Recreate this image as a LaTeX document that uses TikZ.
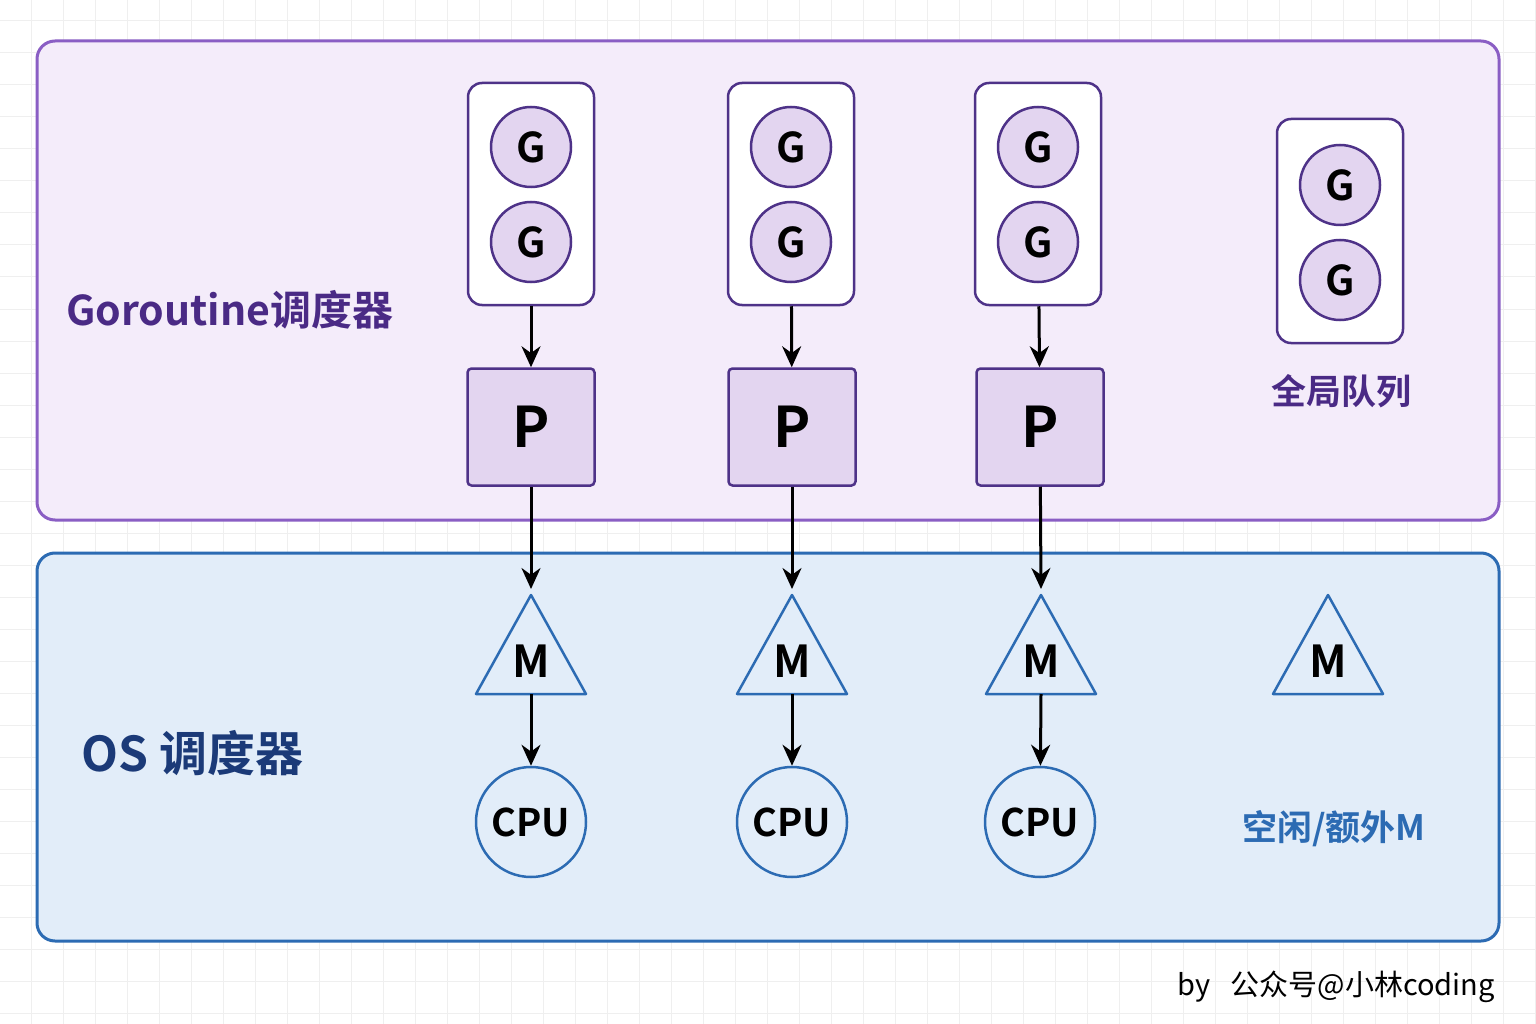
\documentclass[tikz,border=0pt]{standalone}
\usepackage{fontspec}
\setmainfont{Noto Sans CJK SC}[BoldFont={Noto Sans CJK SC Bold}]
\usetikzlibrary{arrows.meta}
\definecolor{gridc}{HTML}{EFEFEF}
\definecolor{pfill}{HTML}{F4ECFA}
\definecolor{pline}{HTML}{8A5EC4}
\definecolor{dpur}{HTML}{4E3288}
\definecolor{gfill}{HTML}{E3D5F0}
\definecolor{bfill}{HTML}{E2EDF9}
\definecolor{bline}{HTML}{2C6BB3}
\definecolor{dblue}{HTML}{1B3A78}
\definecolor{lpur}{HTML}{4A2A85}
\tikzset{
  gridline/.style={gridc, line width=1pt},
  outerp/.style={draw=pline, fill=pfill, line width=3pt, rounded corners=18pt},
  outerb/.style={draw=bline, fill=bfill, line width=3pt, rounded corners=18pt},
  gbox/.style={draw=dpur, fill=white, line width=2.5pt, rounded corners=14pt, minimum width=126pt, minimum height=222pt},
  gcirc/.style={circle, draw=dpur, fill=gfill, line width=2.5pt, minimum size=80pt, inner sep=0pt, font=\fontsize{41}{41}\selectfont\bfseries},
  pbox/.style={draw=dpur, fill=gfill, line width=2.5pt, rounded corners=4pt, minimum width=127pt, minimum height=117pt, font=\fontsize{56}{56}\selectfont\bfseries},
  tri/.style={draw=bline, fill=bfill, line width=2.5pt, line join=round},
  mlab/.style={font=\fontsize{44}{44}\selectfont\bfseries, inner sep=0pt},
  cpu/.style={circle, draw=bline, fill=bfill, line width=2.5pt, minimum size=110pt, inner sep=0pt, font=\fontsize{38}{38}\selectfont\bfseries},
  arr/.style={black, line width=3pt, -{Stealth[length=21pt,width=19pt]}},
}
\begin{document}
\begin{tikzpicture}[x=1pt,y=-1pt]
\useasboundingbox (0,0) rectangle (1536,1024);
\fill[white] (0,0) rectangle (1536,1024);
\foreach \x in {31,63,...,1535} \draw[gridline] (\x,0) -- (\x,1024);
\foreach \y in {21,53,...,1023} \draw[gridline] (0,\y) -- (1536,\y);
% outer panels
\draw[outerp] (37,41) rectangle (1499,520);
\draw[outerb] (37,553) rectangle (1499,941);
% labels
\node[anchor=west, text=lpur, font=\fontsize{41}{41}\selectfont\bfseries, inner sep=0pt] (glab) at (66,310) {Goroutine调度器};
\node[anchor=west, text=dblue, font=\fontsize{48}{48}\selectfont\bfseries, inner sep=0pt] (oslab) at (81,753) {OS 调度器};
% G queues
\foreach \i/\x in {1/531,2/791,3/1038}{
  \node[gbox] (q\i) at (\x,194) {};
  \node[gcirc] (g\i a) at (\x,147) {G};
  \node[gcirc] (g\i b) at (\x,242) {G};
}
\node[gbox, minimum height=224pt] (qg) at (1340,231) {};
\node[gcirc] (gga) at (1340,185) {G};
\node[gcirc] (ggb) at (1340,280) {G};
\node[text=lpur, font=\fontsize{35}{35}\selectfont\bfseries, inner sep=0pt] (glob) at (1341,391) {全局队列};
% P
\foreach \i/\x in {1/531,2/792,3/1040}{
  \node[pbox] (p\i) at (\x,427) {P};
}
% M triangles
\foreach \i/\x in {1/531,2/792,3/1041,4/1328}{
  \draw[tri] (\x,595) -- (\x+55,694) -- (\x-55,694) -- cycle;
  \node[mlab] (m\i) at (\x,661) {M};
  \coordinate (m\i t) at (\x,589);
  \coordinate (m\i b) at (\x,694);
}
% CPU
\foreach \i/\x in {1/531,2/792,3/1040}{
  \node[cpu] (c\i) at (\x,822) {CPU};
}
\node[text=bline, font=\fontsize{35}{35}\selectfont\bfseries, inner sep=0pt] (idle) at (1334,829) {空闲/额外M};
% arrows
\foreach \i in {1,2,3}{
  \draw[arr] (q\i) -- (p\i);
  \draw[arr] (p\i) -- (m\i t);
  \draw[arr] (m\i b) -- (c\i);
}
% footer
\node[anchor=east, font=\fontsize{29}{29}\selectfont, inner sep=0pt] (foot) at (1495,987) {by\hspace{20pt}公众号@小林coding};
\end{tikzpicture}
\end{document}
